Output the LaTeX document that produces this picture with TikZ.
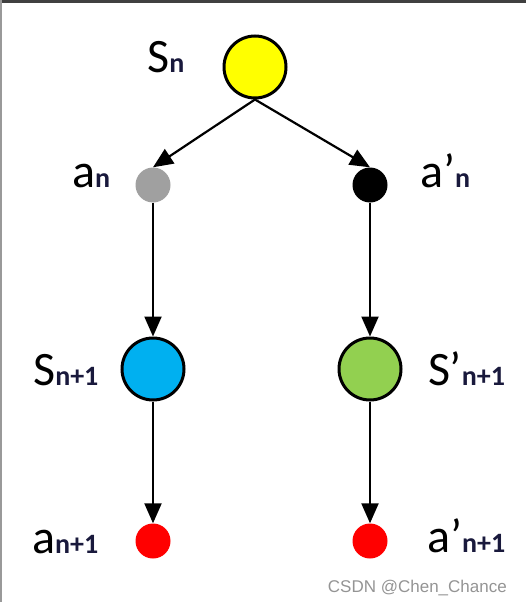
\documentclass[tikz,border=0pt]{standalone}
\usepackage{fontspec}
\setmainfont{Carlito}
\newfontfamily\wmfont{Liberation Sans}
\usepackage{xcolor}
\usetikzlibrary{arrows.meta}
\usetikzlibrary{math}
\definecolor{qyellow}{RGB}{255,255,0}
\definecolor{qgray}{RGB}{160,160,160}
\definecolor{qblue}{RGB}{0,176,240}
\definecolor{qgreen}{RGB}{146,208,80}
\definecolor{qred}{RGB}{255,0,0}
\definecolor{qsub}{RGB}{25,25,60}

% state name with bold subscript on the baseline
\newcommand{\statelab}[2]{{\fontsize{48}{48}\selectfont #1}{\fontsize{28}{28}\selectfont\bfseries\color{qsub}#2}}

\begin{document}
\begin{tikzpicture}[x=1pt,y=-1pt,
  statenode/.style={circle, draw, line width=3pt, minimum size=62pt, inner sep=0pt},
  actnode/.style={circle, minimum size=35pt, inner sep=0pt},
  arr/.style={line width=2.2pt, -{Triangle[length=20pt,width=17pt]}},
  lab/.style={anchor=base west, inner sep=0pt}]

\tikzmath{
\xl = 153; \xr = 370; % columns
\ya = 67; \yb = 185; \yc = 369; \yd = 541; % rows
}

\useasboundingbox (0,0) rectangle (526,602);
% frame of the screenshot
\draw[line width=3pt, black!75] (0,1.5) -- (526,1.5);
\draw[line width=2pt, black!40] (1,0) -- (1,602);

\node[statenode, fill=qyellow] (sn) at (255,\ya) {};
\node[actnode, fill=qgray] (an) at (\xl,\yb) {};
\node[actnode, fill=black] (anp) at (\xr,\yb) {};
\node[statenode, fill=qblue] (snext) at (\xl,\yc) {};
\node[statenode, fill=qgreen] (snextp) at (\xr,\yc) {};
\node[actnode, fill=qred] (anext) at (\xl,\yd) {};
\node[actnode, fill=qred] (anextp) at (\xr,\yd) {};

\draw[arr] (sn.south) -- (an.north);
\draw[arr] (sn.south) -- (anp.north);
\draw[arr] (an) -- (snext);
\draw[arr] (anp) -- (snextp);
\draw[arr] (snext) -- (anext);
\draw[arr] (snextp) -- (anextp);

\node[lab] (lsn) at (147,72) {\statelab{S}{n}};
\node[lab] (lan) at (72,187) {\statelab{a}{n}};
\node[lab] (lanp) at (420,187) {\statelab{a’}{n}};
\node[lab] (lsnext) at (33,385) {\statelab{S}{n+1}};
\node[lab] (lsnextp) at (428,385) {\statelab{S’}{n+1}};
\node[lab] (lanext) at (32,553) {\statelab{a}{n+1}};
\node[lab] (lanextp) at (427,552) {\statelab{a’}{n+1}};

\node[anchor=base east, inner sep=0pt, text=black!42] (wm) at (507,592)
  {\wmfont\fontsize{17}{17}\selectfont CSDN @Chen\_Chance};

\end{tikzpicture}
\end{document}
